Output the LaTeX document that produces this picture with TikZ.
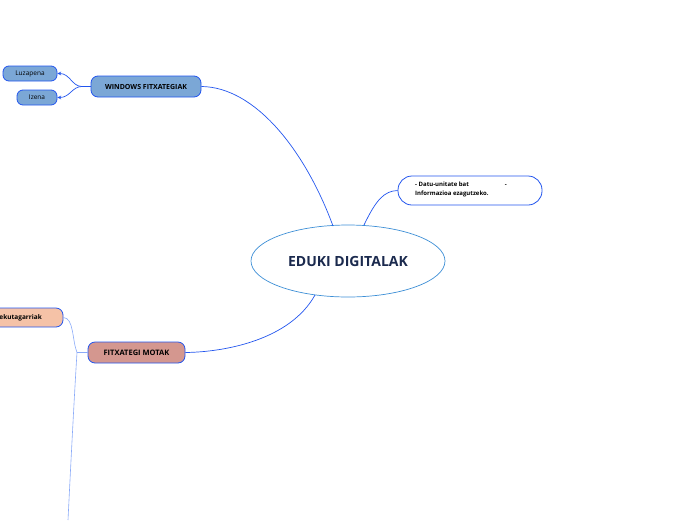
\documentclass[tikz,border=0pt]{standalone}
\usepackage{fontspec}
\setmainfont{Open Sans}
\usetikzlibrary{shapes.geometric, arrows, calc}
\definecolor{linkblue}{HTML}{2255EE}
\definecolor{paleblue}{HTML}{8AAAF8}
\definecolor{winfill}{HTML}{7BA7D6}
\definecolor{rosefill}{HTML}{D4978F}
\definecolor{peachfill}{HTML}{F5C2A7}
\definecolor{mainline}{HTML}{3D8FD6}
\definecolor{navy}{HTML}{1B2A4E}
\tikzset{
	x=1pt, y=-1pt,
	>=stealth,
	topic/.style={draw=linkblue, line width=0.8pt, rounded corners=7pt, inner sep=0pt, minimum height=21pt, font=\bfseries\fontsize{7}{8}\selectfont},
	leaf/.style={draw=linkblue, line width=0.8pt, rounded corners=6pt, fill=winfill, inner sep=0pt, minimum height=15pt, font=\fontsize{6.5}{7}\selectfont},
	link/.style={draw=linkblue, line width=0.7pt},
	thinlink/.style={draw=paleblue, line width=0.6pt},
}

\begin{document}
\begin{tikzpicture}
	\useasboundingbox (0,0) rectangle (696,520);

	\node[ellipse, draw=mainline, line width=0.7pt, fill=white, minimum width=194pt, minimum height=72pt, inner sep=0pt, text=navy, font=\bfseries\fontsize{14}{16}\selectfont] (MAIN) at (348,261) {EDUKI DIGITALAK};

	\node[topic, fill=winfill, minimum width=110pt] (WIN) at (146,86.5) {WINDOWS FITXATEGIAK};
	\node[leaf, minimum width=54pt] (LUZ) at (30,73.5) {Luzapena};
	\node[leaf, minimum width=40pt] (IZENA) at (37,97.5) {Izena};

	\node[draw=linkblue, line width=0.8pt, rounded corners=14pt, fill=white, minimum width=144pt, minimum height=29pt, inner sep=0pt] (DATU) at (470,190.5) {};
	\node[anchor=north west, align=left, inner sep=0pt, font=\bfseries\fontsize{6}{8.5}\selectfont] (DATUtxt) at (415,182) {- Datu-unitate bat\hspace{36pt}-\\Informazioa ezagutzeko.};

	\node[topic, fill=rosefill, minimum width=97pt, font=\bfseries\fontsize{7.5}{8}\selectfont] (MOTAK) at (136.5,352.5) {FITXATEGI MOTAK};
	\node[topic, fill=peachfill, minimum width=92pt, minimum height=19pt, font=\bfseries\fontsize{6.5}{7}\selectfont] (EXE) at (17,317.5) {Exekutagarriak};
	\coordinate (DOWN) at (68,520);
	\coordinate (MAINtop) at (333,226);
	\coordinate (MAINright) at (364,225);
	\coordinate (MAINbottom) at (315,295);

	% main branches
	\draw[link] (WIN.east) .. controls (255,87) and (305,150) .. (MAINtop);
	\draw[link] (MAINright) .. controls (376,200) and (384,191) .. (DATU.west);
	\draw[link] (MAINbottom) .. controls (290,340) and (225,352) .. (MOTAK.east);

	% windows children
	\coordinate (WJ) at (82,86.5);
	\draw[link, line width=1.6pt] (WJ) -- (WIN.west);
	\draw[link, ->] (WJ) .. controls (72,86.5) and (70,73.5) .. (LUZ.east);
	\draw[link, ->] (WJ) .. controls (72,86.5) and (70,97.5) .. (IZENA.east);

	% fitxategi motak children
	\coordinate (MJ) at (77,352.5);
	\draw[thinlink] (MOTAK.west) -- (MJ);
	\draw[thinlink] (MJ) .. controls (72,340) and (74,318) .. (EXE.east);
	\draw[thinlink] (MJ) .. controls (74,400) and (70,480) .. (DOWN);
\end{tikzpicture}
\end{document}
